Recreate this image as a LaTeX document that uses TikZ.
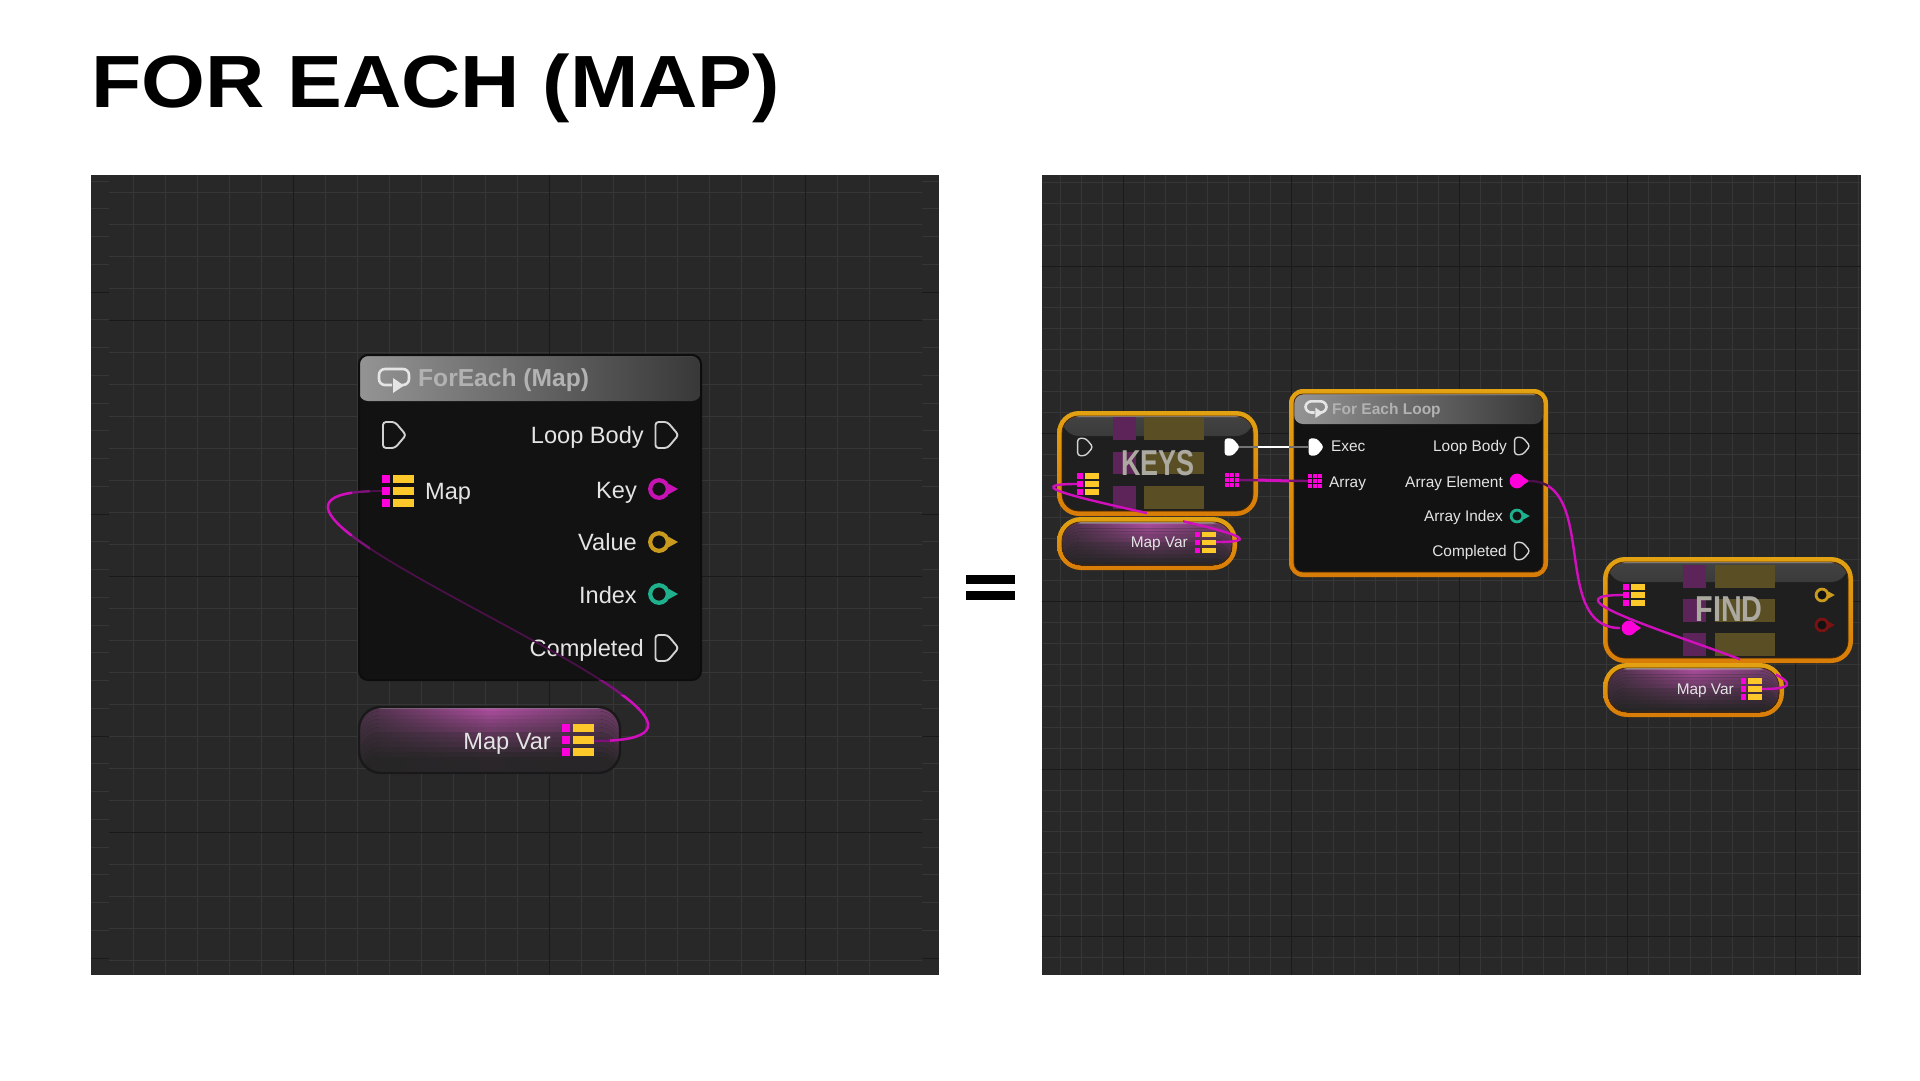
\documentclass[tikz,border=0pt]{standalone}
\usepackage{fontspec}
\setmainfont{Liberation Sans}
\definecolor{panelbg}{HTML}{282828}
\definecolor{gridmin}{HTML}{363636}
\definecolor{gridmaj}{HTML}{1A1A1A}
\definecolor{bodydark}{HTML}{111211}
\definecolor{pinpink}{HTML}{FF00DC}
\definecolor{pinyellow}{HTML}{FDC82A}
\definecolor{ringpink}{HTML}{C912B4}
\definecolor{ringgold}{HTML}{C99A1E}
\definecolor{ringteal}{HTML}{1FB08E}
\definecolor{ringred}{HTML}{7A1212}
\definecolor{dimpink}{HTML}{5C2458}
\definecolor{dimyellow}{HTML}{5A4F24}
\definecolor{wirehot}{HTML}{D010BC}
\definecolor{wiremid}{HTML}{7A1278}
\definecolor{wiredim}{HTML}{4A1048}
\definecolor{varpink}{HTML}{C455B4}
\definecolor{varbase}{HTML}{252525}
\definecolor{pintext}{HTML}{E4E4E4}
\definecolor{outline}{HTML}{D2D2D2}
\definecolor{stampgray}{HTML}{ABA9A0}
\definecolor{rimtop}{HTML}{E2A212}
\definecolor{rimbot}{HTML}{D87C08}
\tikzstyle{panel}=[fill=panelbg, inner sep=0, minimum height=800pt]
\tikzstyle{minline}=[draw=gridmin, line width=.9pt]
\tikzstyle{majline}=[draw=gridmaj, line width=1pt]
\tikzstyle{tick}=[draw=gridmin, line width=.9pt]
\tikzstyle{eqbar}=[fill=black, inner sep=0, minimum width=49pt, minimum height=9pt]
\tikzstyle{bigtext}=[inner sep=0, text=pintext, text height=17pt, text depth=0pt, font=\fontsize{23.6}{28}\selectfont]
\tikzstyle{smalltext}=[inner sep=0, text=pintext, text height=11pt, text depth=0pt, font=\fontsize{15.4}{18}\selectfont]
\tikzstyle{stamp}=[inner sep=0, text=stampgray, font=\bfseries\fontsize{36}{40}\selectfont]
\tikzstyle{wire}=[line width=2.4pt]
\tikzstyle{selrim}=[inner sep=0, top color=rimtop, bottom color=rimbot]
\tikzstyle{bigpin}=[line width=1.9pt]
\tikzstyle{smallpin}=[scale=.67, line width=1.4pt]
\tikzstyle{bigring}=[line width=4.2pt]
\tikzstyle{smallring}=[scale=.67, line width=2.8pt]
\newcommand{\varglow}[1]{%
  \foreach \y/\p in {0/85,4/78,8/70,12/62,16/55,20/48,25/34,30/28,35/22,40/15,45/8,50/3} {
    \pgfmathsetmacro{\l}{\p/4}
    \pgfmathsetmacro{\r}{\p/2}
    \pgfmathsetmacro{\dy}{\y*#1}
    \fill[left color=varpink!\l!varbase, right color=varpink!\r!varbase, middle color=varpink!\p!varbase]
      ([yshift=-\dy pt]path picture bounding box.north west) rectangle (path picture bounding box.south east);
  }
  \fill[black!25!white] (path picture bounding box.north west) rectangle ([yshift=-1.4pt]path picture bounding box.north east);
}
\tikzset{
  forbody/.style={fill=bodydark, path picture={
    \fill[left color=black!42!white, right color=black!78!white]
      (path picture bounding box.north west) rectangle ([yshift=-#1 pt]path picture bounding box.north east);
    \fill[black!35!white] (path picture bounding box.north west) rectangle ([yshift=-1.2pt]path picture bounding box.north east);
  }},
  stampbody/.style={fill=black!88!white, path picture={
    \fill[top color=black!74!white, bottom color=black!88!white]
      (path picture bounding box.north west) rectangle ([yshift=-20pt]path picture bounding box.north east);
    \fill[black!35!white] (path picture bounding box.north west) rectangle ([yshift=-1.2pt]path picture bounding box.north east);
  }},
  varbody/.style={fill=varbase, path picture={\varglow{#1}}},
  pics/mapicon/.style 2 args={code={
    \foreach \v in {-16,-4,8} {
      \fill[#1] (-16,\v) rectangle (-8,\v+8);
      \fill[#2] (-5,\v) rectangle (16,\v+8);
    }
  }},
  pics/arrayicon/.style={code={
    \foreach \u in {-7.5,-2.5,2.5} \foreach \v in {-7.5,-2.5,2.5}
      \fill[pinpink] (\u,\v) rectangle (\u+4,\v+4);
  }},
  pics/execopen/.style={code={
    \draw[draw=outline, rounded corners=3pt] (-11,-13) -- (1,-13) -- (12,0) -- (1,13) -- (-11,13) -- cycle;
  }},
  pics/execfull/.style={code={
    \fill[white, rounded corners=3pt] (-11,-13) -- (1,-13) -- (12,0) -- (1,13) -- (-11,13) -- cycle;
  }},
  pics/ringpin/.style={code={
    \fill[#1] (10,-5) -- (19,0) -- (10,5) -- cycle;
    \draw[draw=#1, fill=bodydark] (0,0) circle (8.8);
  }},
  pics/dotpin/.style={code={
    \fill[pinpink] (9,-6) -- (18,0) -- (9,6) -- cycle;
    \fill[pinpink] (0,0) circle (11);
  }},
  pics/loopicon/.style={code={
    \draw[draw=white!90!black, line width=2.6pt, rounded corners=6pt] (-2,5) -- (-15,5) -- (-15,-11) -- (15,-11) -- (15,5) -- (8,5);
    \fill[white!90!black] (-1,-2) -- (10,5.5) -- (-1,13) -- cycle;
  }}
}
\newcommand{\selnode}[7]{%
  \pgfmathsetmacro{\innerw}{#4-10}
  \pgfmathsetmacro{\innerh}{#5-10}
  \pgfmathsetmacro{\innerr}{#6-5}
  \node[selrim, minimum width=#4pt, minimum height=#5pt, rounded corners=#6pt] (#1rim) at (#2,#3) {};
  \node[#7, draw=black!70!orange, line width=.8pt, inner sep=0, minimum width=\innerw pt, minimum height=\innerh pt, rounded corners=\innerr pt] (#1) at (#2,#3) {};
}
\begin{document}
\begin{tikzpicture}[x=1pt, y=-1pt]
\useasboundingbox (0,0) rectangle (1920,1080);
\node[inner sep=0, anchor=base west, font=\bfseries\fontsize{74}{80}\selectfont] (title) at (91,107) {\scalebox{1.11}[1]{FOR EACH (MAP)}};
\node[panel, minimum width=848.5pt] (gridleft) at (514.75,575) {};
\node[panel, minimum width=819.5pt] (gridright) at (1451.25,575) {};
% left grid
\foreach \y in {192,224,...,960}
  \draw[minline] (109,\y) -- (922,\y);
\foreach \x in {133,165,...,900}
  \draw[minline] (\x,175) -- (\x,975);
\foreach \y in {320,576,832}
  \draw[majline] (109,\y) -- (922,\y);
\foreach \x in {293,549,805}
  \draw[majline] (\x,175) -- (\x,975);
\foreach \k in {-4,...,24} {
  \draw[tick] (91,292+27.75*\k) -- (109,292+27.75*\k);
  \draw[tick] (922,292+27.75*\k) -- (939,292+27.75*\k);
}
\foreach \y in {292,514,736,958} {
  \draw[majline] (91,\y) -- (109,\y);
  \draw[majline] (922,\y) -- (939,\y);
}
% right grid
\foreach \k in {-4,...,33}
  \draw[minline] (1041.5,266+20.96*\k) -- (1861,266+20.96*\k);
\foreach \k in {-3,...,35}
  \draw[minline] (1123+21*\k,175) -- (1123+21*\k,975);
\foreach \k in {0,...,4} {
  \draw[majline] (1041.5,266+167.7*\k) -- (1861,266+167.7*\k);
  \draw[majline] (1123+168*\k,175) -- (1123+168*\k,975);
}
\node[eqbar] (eqtop) at (990.5,579.5) {};
\node[eqbar] (eqbot) at (990.5,595.5) {};
% left graph
\node[forbody=46, draw=black!95!white, line width=2pt, inner sep=0, minimum width=342pt, minimum height=325pt, rounded corners=9pt] (foreach) at (530,517.5) {};
\node[varbody=1, draw=black!90!white, line width=2.4pt, inner sep=0, minimum width=261pt, minimum height=66pt, rounded corners=22pt] (mapvar) at (489.5,740) {};
\pic at (394,380) {loopicon};
\node[inner sep=0, anchor=west, text=black!30!white, font=\bfseries\fontsize{24.6}{28}\selectfont] (foreachname) at (418,380) {ForEach (Map)};
\node[bigtext, anchor=west] (mapname) at (425,491) {Map};
\node[bigtext, anchor=east] (varname) at (551,741) {Map Var};
\foreach \n/\t/\x/\y in {body/Loop Body/644/435, key/Key/637/490, value/Value/637/542, index/Index/637/595, done/Completed/644/648}
  \node[bigtext, anchor=east] (\n) at (\x,\y) {\t};
\coordinate (mapin) at (382,491);
\coordinate (varout) at (594,741);
\draw[wire, draw=wiredim, line width=1.8pt] (varout) .. controls +(250,0) and +(-250,0) .. (mapin);
\foreach \c/\xa/\ya/\xb/\yb in {wiremid/300/470/370/555, wiremid/585/680/660/760, wirehot/300/470/352/535, wirehot/610/695/660/760} {
  \begin{scope}
    \clip (\xa,\ya) rectangle (\xb,\yb);
    \draw[wire, draw=\c] (varout) .. controls +(250,0) and +(-250,0) .. (mapin);
  \end{scope}
}
\pic[bigpin] at (394,435) {execopen};
\pic[bigpin] at (666.5,435) {execopen};
\pic[bigpin] at (666.5,648) {execopen};
\pic at (398,491) {mapicon={pinpink}{pinyellow}};
\pic at (578,740) {mapicon={pinpink}{pinyellow}};
\pic[bigring] at (659,489) {ringpin=ringpink};
\pic[bigring] at (659,542) {ringpin=ringgold};
\pic[bigring] at (659,594) {ringpin=ringteal};
% right graph
\coordinate (keysexec) at (1239,447);
\coordinate (loopexec) at (1308,447);
\coordinate (keysarray) at (1240,480);
\coordinate (looparray) at (1308,481);
\selnode{keys}{1157.5}{463.5}{201}{105}{22}{stampbody}
\selnode{keysvar}{1147}{543.5}{180}{53}{24}{varbody=.8}
\selnode{loop}{1418.5}{483}{259}{188}{14}{forbody=30}
\selnode{find}{1728}{610}{250}{106}{22}{stampbody}
\pic[scale=2.85] at (1158.5,463) {mapicon={dimpink}{dimyellow}};
\pic[scale=2.85] at (1729,610.5) {mapicon={dimpink}{dimyellow}};
\node[stamp] (keysname) at (1158,463) {\scalebox{.75}[1]{KEYS}};
\node[stamp] (findname) at (1729,609) {\scalebox{.8}[1]{FIND}};
\draw[wire, draw=black!55!white] (keysexec) -- (loopexec);
\draw[wire, draw=wiremid] (keysarray) -- (looparray);
\coordinate (gapa) at (1258,447);
\coordinate (gapb) at (1289,447);
\coordinate (gapc) at (1258,480);
\coordinate (gapd) at (1289,481);
\draw[wire, draw=white] (gapa) -- (gapb);
\draw[wire, draw=wirehot, line width=3pt] (gapc) -- (gapd);
\pic[scale=.7] at (1316,409) {loopicon};
\node[smalltext, anchor=west, text=black!30!white, font=\bfseries\fontsize{15.5}{18}\selectfont] (loopname) at (1332,409) {For Each Loop};
\node[smalltext, anchor=east] (varnamea) at (1188,542) {Map Var};
\node[smalltext, anchor=west] (execname) at (1331,446) {Exec};
\node[smalltext, anchor=west] (arrayname) at (1329,482) {Array};
\foreach \n/\t/\x/\y in {bodyb/Loop Body/1507/446, elem/Array Element/1503/482, aindex/Array Index/1503/516, doneb/Completed/1507/551}
  \node[smalltext, anchor=east] (\n) at (\x,\y) {\t};
% magenta wires on the right
\coordinate (keysin) at (1077,484);
\coordinate (keysvarout) at (1216,542);
\coordinate (elemout) at (1529,481);
\coordinate (findkey) at (1620,628);
\coordinate (findin) at (1623,595);
\coordinate (findvarout) at (1762,689);
\begin{scope}
  \clip (1040,470) rectangle (1147,530);
  \draw[wire, draw=wirehot] (keysvarout) .. controls +(120,0) and +(-120,0) .. (keysin);
\end{scope}
\begin{scope}
  \clip (1183,515) rectangle (1245,560);
  \draw[wire, draw=wirehot] (keysvarout) .. controls +(120,0) and +(-120,0) .. (keysin);
\end{scope}
\draw[wire, draw=wiredim] (elemout) .. controls +(70,0) and +(-70,0) .. (findkey);
\begin{scope}
  \clip (1548,470) rectangle (1640,640);
  \draw[wire, draw=wirehot] (elemout) .. controls +(70,0) and +(-70,0) .. (findkey);
\end{scope}
\begin{scope}
  \clip (1590,585) rectangle (1740,665);
  \draw[wire, draw=wirehot] (findvarout) .. controls +(125,0) and +(-125,0) .. (findin);
\end{scope}
\selnode{findvar}{1693.5}{690}{181}{54}{24}{varbody=.8}
\node[smalltext, anchor=east] (varnamec) at (1734,689) {Map Var};
\begin{scope}
  \clip (1762,680) rectangle (1776,696) (1776,672) rectangle (1795,696);
  \draw[wire, draw=wirehot] (findvarout) .. controls +(125,0) and +(-125,0) .. (findin);
\end{scope}
\pic[smallpin] at (1085,447) {execopen};
\pic[smallpin] at (1232,447) {execfull};
\pic[smallpin] at (1316,447) {execfull};
\pic[smallpin] at (1522,446) {execopen};
\pic[smallpin] at (1522,551) {execopen};
\pic[scale=.66] at (1088,484) {mapicon={pinpink}{pinyellow}};
\pic[scale=.66] at (1205.5,542.5) {mapicon={pinpink}{pinyellow}};
\pic[scale=.66] at (1634,595) {mapicon={pinpink}{pinyellow}};
\pic[scale=.66] at (1751.5,689) {mapicon={pinpink}{pinyellow}};
\pic at (1232.5,480) {arrayicon};
\pic at (1315.5,481) {arrayicon};
\pic[scale=.67] at (1517,481) {dotpin};
\pic[smallring] at (1517,516) {ringpin=ringteal};
\pic[scale=.67] at (1629,628) {dotpin};
\pic[smallring] at (1822,595) {ringpin=ringgold};
\pic[smallring] at (1822,625) {ringpin=ringred};
\end{tikzpicture}
\end{document}
